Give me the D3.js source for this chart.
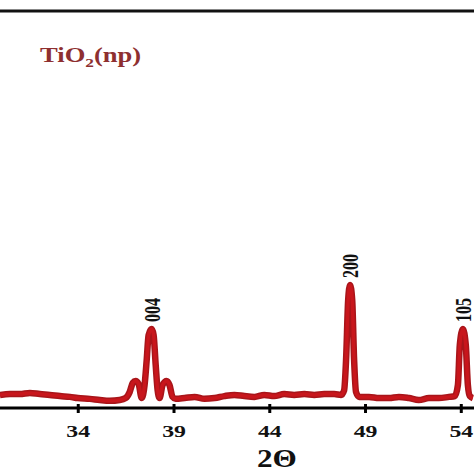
<!DOCTYPE html>
<html>
<head>
<meta charset="utf-8">
<script src="https://cdn.jsdelivr.net/npm/d3@7/dist/d3.min.js"></script>
<style>
  html, body { margin: 0; padding: 0; background: #fff; }
  svg { display: block; }
</style>
</head>
<body>
<svg id="chart" width="474" height="474"></svg>
<script>
// ---- data ----
const twoTheta = [29.94, 30.46, 30.98, 31.50, 32.02, 32.54, 33.07, 33.59, 34.00, 34.63,
  35.15, 35.67, 36.19, 36.50, 36.71, 36.87, 37.02, 37.18, 37.34, 37.49,
  37.60, 37.70, 37.86, 37.96, 38.07, 38.17, 38.27, 38.43, 38.64, 38.79,
  38.95, 39.11, 39.58, 40.10, 40.62, 41.14, 41.66, 42.18, 42.70, 43.22,
  43.74, 44.26, 44.78, 45.30, 45.83, 46.35, 46.87, 47.39, 47.75, 47.91,
  48.01, 48.12, 48.22, 48.33, 48.43, 48.53, 48.69, 49.21, 49.73, 50.25,
  50.77, 51.29, 51.81, 52.34, 52.86, 53.38, 53.69, 53.85, 53.95, 54.11,
  54.26, 54.37, 54.47, 54.63];
const intensity = [33, 35, 35, 38, 35, 33, 30, 28, 25, 23,
  20, 18, 20, 25, 40, 63, 68, 60, 25, 58,
  121, 184, 199, 184, 108, 45, 25, 58, 68, 58,
  28, 23, 25, 28, 23, 25, 30, 33, 30, 28,
  33, 30, 35, 33, 35, 33, 35, 35, 33, 45,
  121, 272, 310, 272, 121, 40, 28, 28, 25, 25,
  28, 25, 20, 25, 25, 28, 30, 58, 159, 199,
  159, 58, 30, 25];

const xTicks = [34, 39, 44, 49, 54];
const peakLabels = ["004", "200", "105"];
const peakTheta = [37.86, 48.22, 54.11];
const peakIntensity = [199, 310, 199];

const sampleName = "TiO";
const sampleSub = "2";
const sampleSuffix = "(np)";
const xTitle = "2\u0398";

// ---- drawing ----
const W = 474, H = 474;
const svg = d3.select("#chart");
const serif = "'Liberation Serif', 'Times New Roman', serif";
const stretch = 1.4; // the reference glyphs are widened horizontally

const x = d3.scaleLinear().domain([29.94, 54.69]).range([0, W]);
const y = d3.scaleLinear().domain([0, 1000]).range([408, 11]);

// top frame line
svg.append("line")
  .attr("x1", 0).attr("x2", W)
  .attr("y1", y(1000)).attr("y2", y(1000))
  .attr("stroke", "#111").attr("stroke-width", 3);

// data line
const pts = twoTheta.map((t, i) => [t, intensity[i]]);
const line = d3.line()
  .x(d => x(d[0]))
  .y(d => y(d[1]))
  .curve(d3.curveMonotoneX);

svg.append("path")
  .datum(pts)
  .attr("d", line)
  .attr("fill", "none")
  .attr("stroke", "#a8151a")
  .attr("stroke-width", 6.5)
  .attr("stroke-linejoin", "round");
svg.append("path")
  .datum(pts)
  .attr("d", line)
  .attr("fill", "none")
  .attr("stroke", "#c8161c")
  .attr("stroke-width", 3.5)
  .attr("stroke-linejoin", "round");

// x axis
const axis = d3.axisBottom(x).tickValues(xTicks).tickSize(5).tickFormat(d3.format("d"));
const gx = svg.append("g")
  .attr("transform", `translate(0,${y(0)})`)
  .call(axis);
gx.select(".domain").remove();
gx.append("line")
  .attr("x1", 0).attr("x2", W)
  .attr("y1", 0).attr("y2", 0)
  .attr("stroke", "#000").attr("stroke-width", 3);
gx.selectAll(".tick line")
  .attr("y1", -4).attr("y2", 5)
  .attr("stroke", "#000").attr("stroke-width", 3);
gx.selectAll(".tick text")
  .attr("x", null).attr("y", null).attr("dy", null)
  .attr("transform", `translate(0,29) scale(${stretch},1)`)
  .attr("fill", "#111")
  .style("font-family", serif)
  .style("font-weight", "bold")
  .style("font-size", "17px");

// axis title
svg.append("text")
  .attr("transform", `translate(${x(44.4)},467) scale(1.25,1)`)
  .attr("text-anchor", "middle")
  .style("font-family", serif)
  .style("font-weight", "bold")
  .style("font-size", "25px")
  .attr("fill", "#111")
  .text(xTitle);

// peak labels
peakLabels.forEach((lab, i) => {
  const px = x(peakTheta[i]);
  const py = y(peakIntensity[i]) - 7;
  svg.append("text")
    .attr("transform", `translate(${px},${py}) scale(${stretch},1) rotate(-90)`)
    .attr("text-anchor", "start")
    .attr("dy", "0.35em")
    .style("font-family", serif)
    .style("font-weight", "bold")
    .style("font-size", "16px")
    .attr("fill", "#111")
    .text(lab);
});

// sample name
const t = svg.append("text")
  .attr("transform", "translate(40,62) scale(1.33,1)")
  .style("font-family", serif)
  .style("font-weight", "bold")
  .style("font-size", "20px")
  .attr("fill", "#8e2f30");
t.append("tspan").text(sampleName);
t.append("tspan").attr("dy", 5).style("font-size", "13px").text(sampleSub);
t.append("tspan").attr("dy", -5).text(sampleSuffix);
</script>
</body>
</html>
